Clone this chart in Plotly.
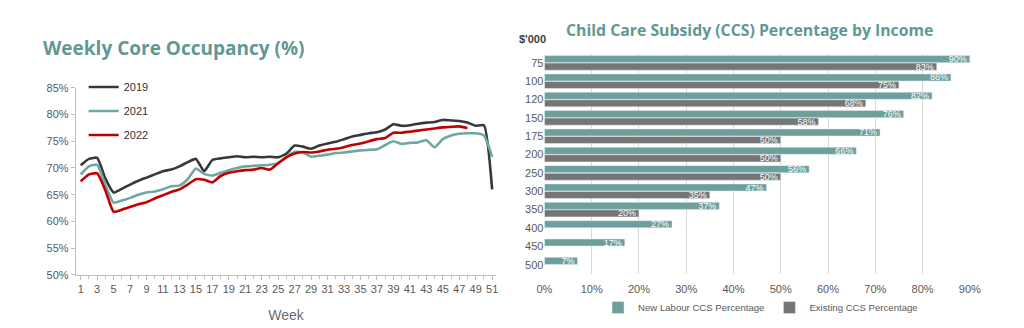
import plotly.graph_objects as go

weeks = list(range(1, 52))
occ_2019 = [70.5, 71.7, 71.9, 68.0, 65.4, 66.1, 66.9, 67.6, 68.2, 68.8,
            69.4, 69.7, 70.3, 71.1, 71.7, 69.4, 71.5, 71.8, 72.0, 72.2,
            72.0, 72.1, 72.0, 72.1, 72.0, 72.7, 74.2, 74.0, 73.6, 74.2,
            74.6, 74.9, 75.4, 75.9, 76.2, 76.5, 76.7, 77.2, 78.2, 77.9,
            78.0, 78.3, 78.5, 78.6, 79.0, 78.9, 78.8, 78.5, 77.9, 78.0, 66.0]
occ_2021 = [68.8, 70.3, 70.6, 66.8, 63.5, 63.9, 64.4, 65.0, 65.4, 65.6,
            66.0, 66.6, 66.7, 67.9, 69.9, 68.9, 68.6, 69.1, 69.6, 70.0,
            70.3, 70.4, 70.5, 70.6, 70.9, 72.1, 73.0, 72.9, 72.1, 72.3,
            72.5, 72.8, 72.9, 73.1, 73.3, 73.4, 73.5, 74.3, 75.0, 74.5,
            74.7, 74.8, 75.2, 73.9, 75.4, 76.1, 76.4, 76.5, 76.5, 76.1, 72.1]
occ_2022 = [67.5, 68.8, 69.0, 65.8, 61.8, 62.2, 62.7, 63.2, 63.6, 64.3,
            64.9, 65.5, 66.0, 66.9, 67.9, 67.8, 67.3, 68.5, 69.1, 69.4,
            69.6, 69.7, 70.0, 69.7, 70.9, 72.0, 72.7, 73.0, 72.9, 73.1,
            73.4, 73.6, 73.9, 74.3, 74.6, 75.0, 75.4, 75.6, 76.6, 76.6,
            76.8, 77.0, 77.2, 77.4, 77.6, 77.7, 77.8, 77.5, None, None, None]
week_ticks = list(range(1, 52, 2))
occ_ticks = [50, 55, 60, 65, 70, 75, 80, 85]

income = ["75", "100", "120", "150", "175", "200", "250", "300", "350", "400", "450", "500"]
new_labour = [90, 86, 82, 76, 71, 66, 56, 47, 37, 27, 17, 7]
existing = [83, 75, 68, 58, 50, 50, 50, 35, 20, None, None, None]
pct_ticks = [0, 10, 20, 30, 40, 50, 60, 70, 80, 90]

TEAL_TITLE = "#5f9894"
GRAY_TXT = "#595959"
TEAL_BAR = "#6d9f9c"
GRAY_BAR = "#767676"

fig = go.Figure()

line_specs = [("2019", occ_2019, "#383838"), ("2021", occ_2021, "#6fa7a3"), ("2022", occ_2022, "#c00000")]
for name, vals, col in line_specs:
    fig.add_trace(go.Scatter(
        x=weeks, y=vals, name=name, mode="lines",
        line=dict(color=col, width=2.6, shape="spline", smoothing=0.5),
        xaxis="x", yaxis="y", legend="legend", legendgroup=name,
        connectgaps=False,
    ))

fig.add_trace(go.Bar(
    y=income, x=new_labour, orientation="h", name="New Labour CCS Percentage",
    marker=dict(color=TEAL_BAR), text=[f"{v}%" for v in new_labour],
    textposition="inside", insidetextanchor="end",
    textfont=dict(color="white", size=9, family="Liberation Sans"),
    xaxis="x2", yaxis="y2", legend="legend2",
))
fig.add_trace(go.Bar(
    y=income, x=existing, orientation="h", name="Existing CCS Percentage",
    marker=dict(color=GRAY_BAR),
    text=[f"{v}%" if v is not None else "" for v in existing],
    textposition="inside", insidetextanchor="end",
    textfont=dict(color="white", size=9, family="Liberation Sans"),
    xaxis="x2", yaxis="y2", legend="legend2",
))

W, H = 1024, 328

fig.update_layout(
    width=W, height=H, autosize=False,
    margin=dict(l=0, r=0, t=0, b=0),
    paper_bgcolor="white", plot_bgcolor="white",
    font=dict(family="Liberation Sans", color=GRAY_TXT, size=11),
    barmode="group", bargap=0.18, bargroupgap=0.06,
    uniformtext=dict(minsize=9, mode="show"),
    xaxis=dict(
        domain=[69 / W, 497 / W], range=[0.4, 51.5],
        tickvals=week_ticks, ticks="outside", ticklen=4, tickcolor="#bfbfbf",
        minor=dict(dtick=1, ticks="outside", ticklen=3, tickcolor="#bfbfbf"),
        showline=True, linecolor="#bfbfbf", linewidth=1,
        showgrid=False, zeroline=False,
        tickfont=dict(size=11, color=GRAY_TXT),
        title=dict(text="Week", font=dict(size=14, color="#6b6b6b"), standoff=16),
    ),
    yaxis=dict(
        domain=[1 - 279 / H, 1 - 85 / H], range=[50, 85],
        tickvals=occ_ticks, ticktext=[f"{v}%" for v in occ_ticks],
        ticks="outside", ticklen=4, tickcolor="#bfbfbf",
        showline=True, linecolor="#bfbfbf", linewidth=1,
        showgrid=False, zeroline=False,
        tickfont=dict(size=11, color=GRAY_TXT),
    ),
    xaxis2=dict(
        domain=[546 / W, 980 / W], range=[0, 90.2], anchor="y2",
        tickvals=pct_ticks, ticktext=[f"{v}%" for v in pct_ticks],
        showgrid=True, gridcolor="#d9d9d9", gridwidth=1,
        zeroline=False, showline=False, ticklabelstandoff=7,
        tickfont=dict(size=11, color=GRAY_TXT),
    ),
    yaxis2=dict(
        domain=[1 - 278 / H, 1 - 49.5 / H], range=[11.5, -0.5],
        type="category", anchor="x2",
        showgrid=False, zeroline=False, showline=False, ticks="",
        tickfont=dict(size=11, color=GRAY_TXT),
    ),
    legend=dict(
        x=77 / W, y=1 - 69 / H, xanchor="left", yanchor="top",
        bgcolor="rgba(0,0,0,0)", font=dict(size=11, color="#333333"),
        tracegroupgap=5, itemwidth=30,
    ),
    legend2=dict(
        orientation="h", x=766 / W, y=1 - 313 / H, xanchor="center", yanchor="middle",
        bgcolor="rgba(0,0,0,0)", font=dict(size=9.6, color=GRAY_TXT),
        itemwidth=30,
    ),
    annotations=[
        dict(text="<b>Weekly Core Occupancy (%)</b>", x=34 / W, y=1 - 44 / H,
             xref="paper", yref="paper", xanchor="left", yanchor="middle",
             showarrow=False, font=dict(family="Open Sans", size=19, color=TEAL_TITLE)),
        dict(text="<b>Child Care Subsidy (CCS) Percentage by Income</b>", x=566 / W, y=1 - 25 / H,
             xref="paper", yref="paper", xanchor="left", yanchor="middle",
             showarrow=False, font=dict(family="Open Sans", size=15.8, color=TEAL_TITLE)),
        dict(text="<b>$'000</b>", x=518 / W, y=1 - 34 / H,
             xref="paper", yref="paper", xanchor="left", yanchor="middle",
             showarrow=False, font=dict(family="Liberation Sans", size=11, color="#404040")),
    ],
)

fig.write_html("out.html")
